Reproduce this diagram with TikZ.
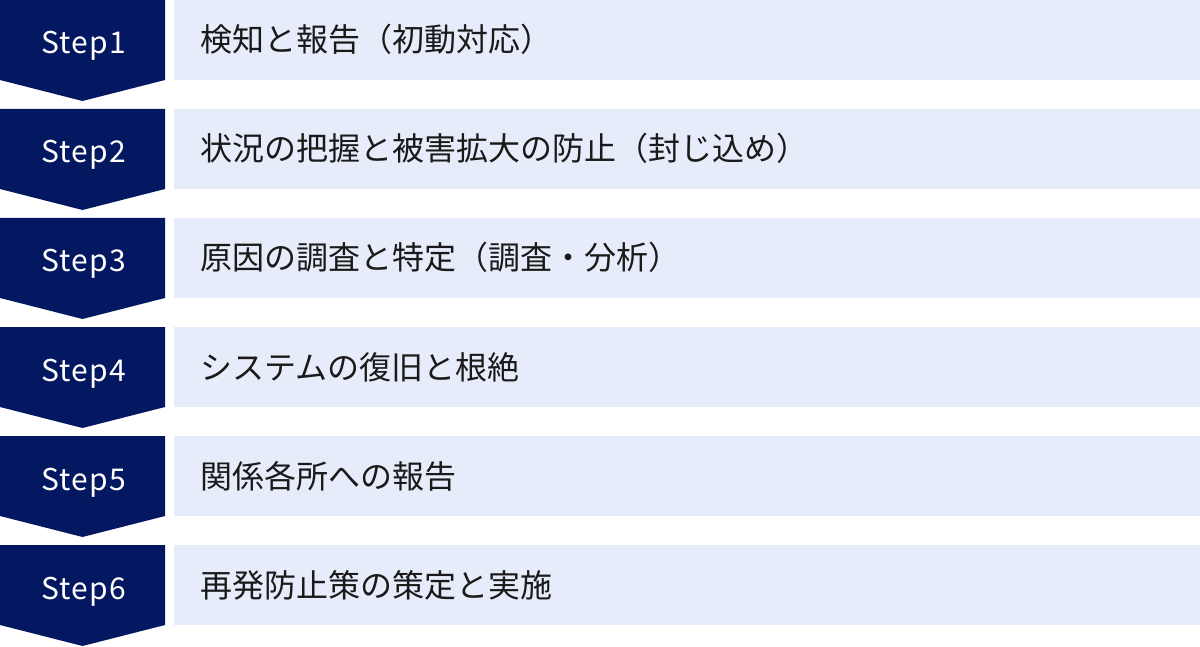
\documentclass[tikz,border=0pt]{standalone}
\usepackage{fontspec}
\setmainfont{Noto Sans}
\newfontfamily\jpfont{Noto Sans CJK JP}
\newfontfamily\stepfont[LetterSpace=4]{Noto Sans CJK JP}
\usepackage{xcolor}
\definecolor{stepnavy}{HTML}{041862}
\definecolor{taskblue}{HTML}{E6ECF9}
\definecolor{tasktext}{HTML}{1A1A1A}

\begin{document}
\begin{tikzpicture}[x=1pt, y=-1pt,
	steplabel/.style={text=white, font=\stepfont\fontsize{30}{30}\selectfont, anchor=base},
	tasklabel/.style={text=tasktext, font=\jpfont\fontsize{32}{32}\selectfont, anchor=base west, inner sep=0pt}]
	\useasboundingbox (0,0) rectangle (1200,647);
	\foreach \i/\task in {1/検知と報告（初動対応）,
			2/状況の把握と被害拡大の防止（封じ込め）,
			3/原因の調査と特定（調査・分析）,
			4/システムの復旧と根絶,
			5/関係各所への報告,
			6/再発防止策の策定と実施} {
		\pgfmathsetmacro{\top}{(\i-1)*109}
		% step chevron
		\fill[stepnavy] (0,\top) -- (165,\top) -- (165,\top+80) -- (82.5,\top+101) -- (0,\top+80) -- cycle;
		\node[steplabel] (step\i) at (83.5,\top+54) {Step\i};
		% task bar
		\fill[taskblue] (174,\top) rectangle (1200,\top+80);
		\node[tasklabel] (task\i) at (200,\top+52) {\task};
	}
\end{tikzpicture}
\end{document}
